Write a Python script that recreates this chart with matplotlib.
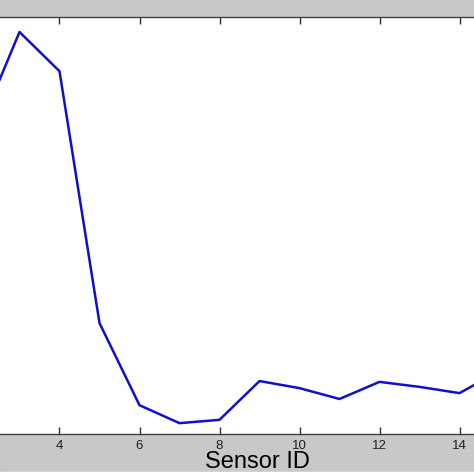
import matplotlib.pyplot as plt

plt.rcParams['font.family'] = ['Liberation Sans', 'DejaVu Sans']

# sensor readings (normalised)
sensor_id = [2, 3, 4, 5, 6, 7, 8, 9, 10, 11, 12, 13, 14, 15]
value = [0.734, 0.964, 0.870, 0.266, 0.069, 0.026, 0.034, 0.127, 0.110, 0.084, 0.125, 0.113, 0.098, 0.151]
xticks = [4, 6, 8, 10, 12, 14]

fig = plt.figure(figsize=(4.74, 4.74), dpi=100, facecolor='#c8c8c8')

# axes runs off the left and right edges, like the cropped original
ax = fig.add_axes([0, 40 / 474, 1, 417 / 474])
ax.plot(sensor_id, value, color='#1010c8', linewidth=1.8)

ax.set_xlim(4 - 59.5 / 40, 4 + (474 - 59.5) / 40)
ax.set_ylim(0, 1)
ax.set_xticks(xticks)
ax.set_yticks([])
ax.tick_params(axis='x', direction='in', length=5, width=1, top=True,
               labelsize=9.5, pad=4, colors='#303030')
ax.tick_params(axis='x', labelcolor='#202020')
for s in ax.spines.values():
    s.set_color('#404040')
    s.set_linewidth(1)
ax.spines['left'].set_visible(False)
ax.spines['right'].set_visible(False)

fig.text(257 / 474, 1 - 462 / 474, 'Sensor ID', ha='center', va='center', fontsize=17)

fig.add_artist(plt.Rectangle((0, 0), 1, 2 / 474, transform=fig.transFigure,
                             color='white', zorder=5))

fig.savefig('out.png', dpi=100, facecolor=fig.get_facecolor())
